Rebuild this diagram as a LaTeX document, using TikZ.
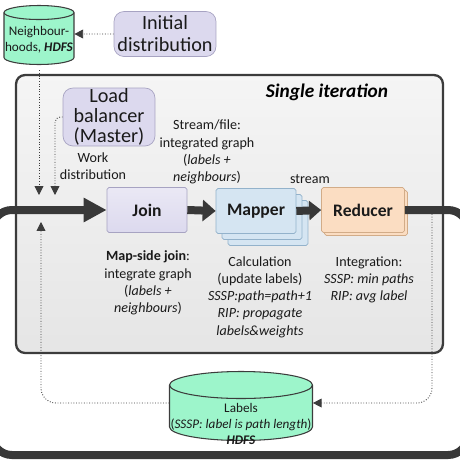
\documentclass[tikz,border=0pt]{standalone}
\usepackage{fontspec}
\setmainfont{Carlito}
\usetikzlibrary{positioning,arrows.meta,shadows}
\definecolor{cMint}{HTML}{9DF5CB}
\definecolor{cLilac}{HTML}{DCD9EE}
\definecolor{cLilacD}{HTML}{A7A3C2}
\definecolor{cSky}{HTML}{D5E5F2}
\definecolor{cSkyD}{HTML}{93B2CB}
\definecolor{cPeach}{HTML}{FBDDC2}
\definecolor{cPeachD}{HTML}{D2AC88}
\definecolor{cInk}{HTML}{1A1A1A}
\definecolor{cFlow}{HTML}{383838}
\definecolor{cFrame}{HTML}{3C3C3C}
% centre, half width, half height between the ellipse centres, ellipse radius (cm)
\newcommand\dbcyl[4]{%
  \begin{scope}[shift={(#1)},x=1cm,y=1cm]
    \draw[cFrame,fill=cMint,line width=0.6pt] (-#2,#3) -- (-#2,-#3)
      arc[start angle=180,end angle=360,x radius=#2,y radius=#4] -- (#2,#3)
      arc[start angle=0,end angle=180,x radius=#2,y radius=#4] -- cycle;
    \draw[cFrame,line width=0.6pt] (-#2,#3) arc[start angle=180,end angle=360,x radius=#2,y radius=#4];
  \end{scope}}

\begin{document}
\begin{tikzpicture}[x=0.02cm,y=-0.02cm,
    txt/.style={font=\fontsize{8}{9.8}\selectfont,align=center,text=cInk,inner sep=0pt},
    dbtxt/.style={align=center,font=\fontsize{7.5}{9}\selectfont,inner sep=0pt,text=cInk},
    big/.style={draw=cLilacD,fill=cLilac,rounded corners=0.2cm,align=center,
                font=\fontsize{11.5}{12.5}\selectfont,inner sep=0pt,text=cInk},
    blk/.style={rounded corners=1pt,align=center,font=\fontsize{10}{12}\selectfont\bfseries,
                minimum height=0.9cm,inner sep=0pt,text=cInk},
    flow/.style={cFlow,line width=0.16cm},
    dots/.style={densely dotted,cFrame,line width=0.5pt,-{Triangle[length=5pt,width=5pt]}}]
    \useasboundingbox (0,0) rectangle (460,460);
    \clip (0,0) rectangle (460,460);
    \node[draw=cFrame,line width=1.3pt,rounded corners=0.18cm,top color=gray!8,bottom color=gray!20,
          minimum width=8.54cm,minimum height=5.56cm] (iter) at (229.5,214) {};
    \node[font=\fontsize{11}{13}\selectfont\bfseries\itshape] (title) at (327,92) {Single iteration};
    \dbcyl{39,35}{0.7}{0.45}{0.14}
    \node[dbtxt,minimum width=1.4cm,minimum height=1.2cm] (neigh) at (39,40)
      {Neighbour-\\hoods, \textbf{\textit{HDFS}}};
    \node[big,minimum width=2.04cm,minimum height=0.9cm] (init) at (165,34) {Initial\\distribution};
    \node[big,minimum width=1.84cm,minimum height=1.16cm,font=\fontsize{11.5}{11.5}\selectfont] (lb) at (109,117)
      {Load\\balancer\\(Master)};
    \node[txt] (work) at (93,166) {Work\\distribution};
    \node[blk,draw=cLilacD,top color=cLilac!60,bottom color=cLilac,minimum width=1.6cm] (join) at (147,210) {Join};
    \node[blk,draw=cSkyD,fill=cSky,minimum width=1.6cm,
          double copy shadow={shadow xshift=0.12cm,shadow yshift=-0.12cm}] (map) at (256,211) {Mapper};
    \node[blk,draw=cPeachD,fill=cPeach,minimum width=1.66cm,
          copy shadow={shadow xshift=0.06cm,shadow yshift=-0.06cm}] (red) at (363,210) {Reducer};
    \dbcyl{241,406}{1.43}{0.42}{0.27}
    \node[dbtxt,minimum width=2.86cm] (labels) at (241,424)
      {Labels\\(\textit{SSSP: label is path length})\\\textbf{\textit{HDFS}}};
    \node[txt] (file) at (207,152) {Stream/file:\\integrated graph\\(\textit{labels +}\\\textit{neighbours})};
    \node[txt] (strm) at (310,179) {stream};
    \node[txt] (jnote) at (148,283)
      {\textbf{Map-side join}:\\integrate graph\\(\textit{labels +}\\\textit{neighbours})};
    \node[txt] (mnote) at (260,297)
      {Calculation\\(update labels)\\\textit{SSSP:path=path+1}\\\textit{RIP: propagate}\\\textit{labels\&weights}};
    \node[txt] (rnote) at (369,280) {Integration:\\\textit{SSSP: min paths}\\\textit{RIP: avg label}};
    \coordinate (nIn) at (39,195);
    \coordinate (lbIn) at (55,195);
    \coordinate (lIn) at (41,222);
    \coordinate (rOut) at (432,214);
    \coordinate (cR) at (468,455);
    \coordinate (cL) at (-8,455);
    \draw[dots] (init.west) -- ([yshift=0.12cm]neigh.east);
    \draw[dots] (neigh.south) -- (nIn);
    \draw[dots,rounded corners=3pt] (lb.west) -| (lbIn);
    \draw[dots,rounded corners=0.3cm] (rOut) |- ([yshift=0.42cm]labels.east);
    \draw[dots,rounded corners=0.3cm] ([yshift=0.42cm]labels.west) -| (lIn);
    \draw[flow,-{Triangle[length=0.46cm,width=0.46cm]},rounded corners=0.4cm]
      (red.east) -| (cR) -- (cL) |- (join.west);
    \draw[flow,-{Triangle[length=0.26cm,width=0.42cm]}] (join.east) -- (map.west);
    \draw[flow,-{Triangle[length=0.24cm,width=0.38cm]}] (map.east) -- (red.west);
\end{tikzpicture}
\end{document}
